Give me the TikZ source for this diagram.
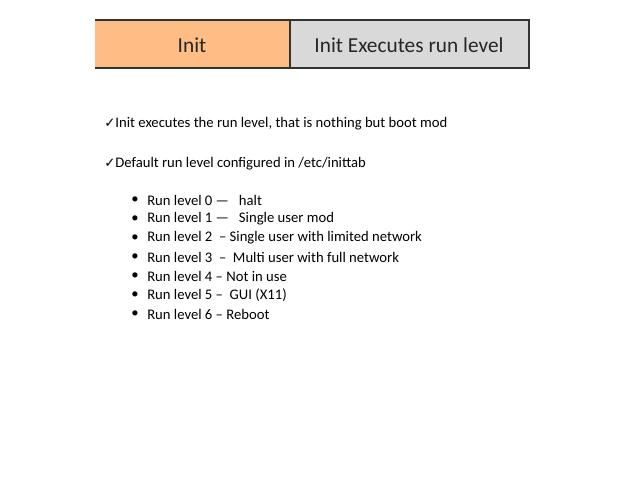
\documentclass[tikz,border=0pt]{standalone}
\usepackage{fontspec}
\setmainfont{Carlito}
\newfontfamily\symf{DejaVu Sans}
\begin{document}
\begin{tikzpicture}[x=0.75pt,y=-0.75pt,
  hdr/.style={font=\fontsize{16}{18}\selectfont, text=black!85},
  body/.style={font=\fontsize{11}{13}\selectfont, anchor=west, inner sep=0pt}]
\useasboundingbox[fill=white] (0,0) rectangle (638,478);
\fill[orange!45!white!95!red] (95,20) rectangle (290,68);
\fill[gray!30] (290,20) rectangle (529,68);
\draw[line width=1.2pt, black!80] (95,20) -- (529,20) -- (529,68) -- (95,68);
\draw[line width=0.8pt, black!80] (290,20) -- (290,68);
\node[hdr] (a) at (192,45) {Init};
\node[hdr] (b) at (409,45) {Init Executes run level};
\node[body] (l1) at (104,124) {{\symf\fontsize{10}{12}\selectfont ✓}Init executes the run level, that is nothing but boot mod};
\node[body] (l2) at (104,164) {{\symf\fontsize{10}{12}\selectfont ✓}Default run level configured in /etc/inittab};
\foreach \y/\t in {200/{Run level 0 ---\ \ \ halt},219/{Run level 1 ---\ \ \ Single user mod},238/{Run level 2\ \ –\ Single user with limited network},257/{Run level 3\ \ --\ \ Multi user with full network},276/{Run level 4 – Not in use},295/{Run level 5 –\ \ GUI (X11)},314/{Run level 6 – Reboot}}{
  \node[body] at (131,\y) {•};
  \node[body] at (147,\y) {\t};
}
\end{tikzpicture}
\end{document}
